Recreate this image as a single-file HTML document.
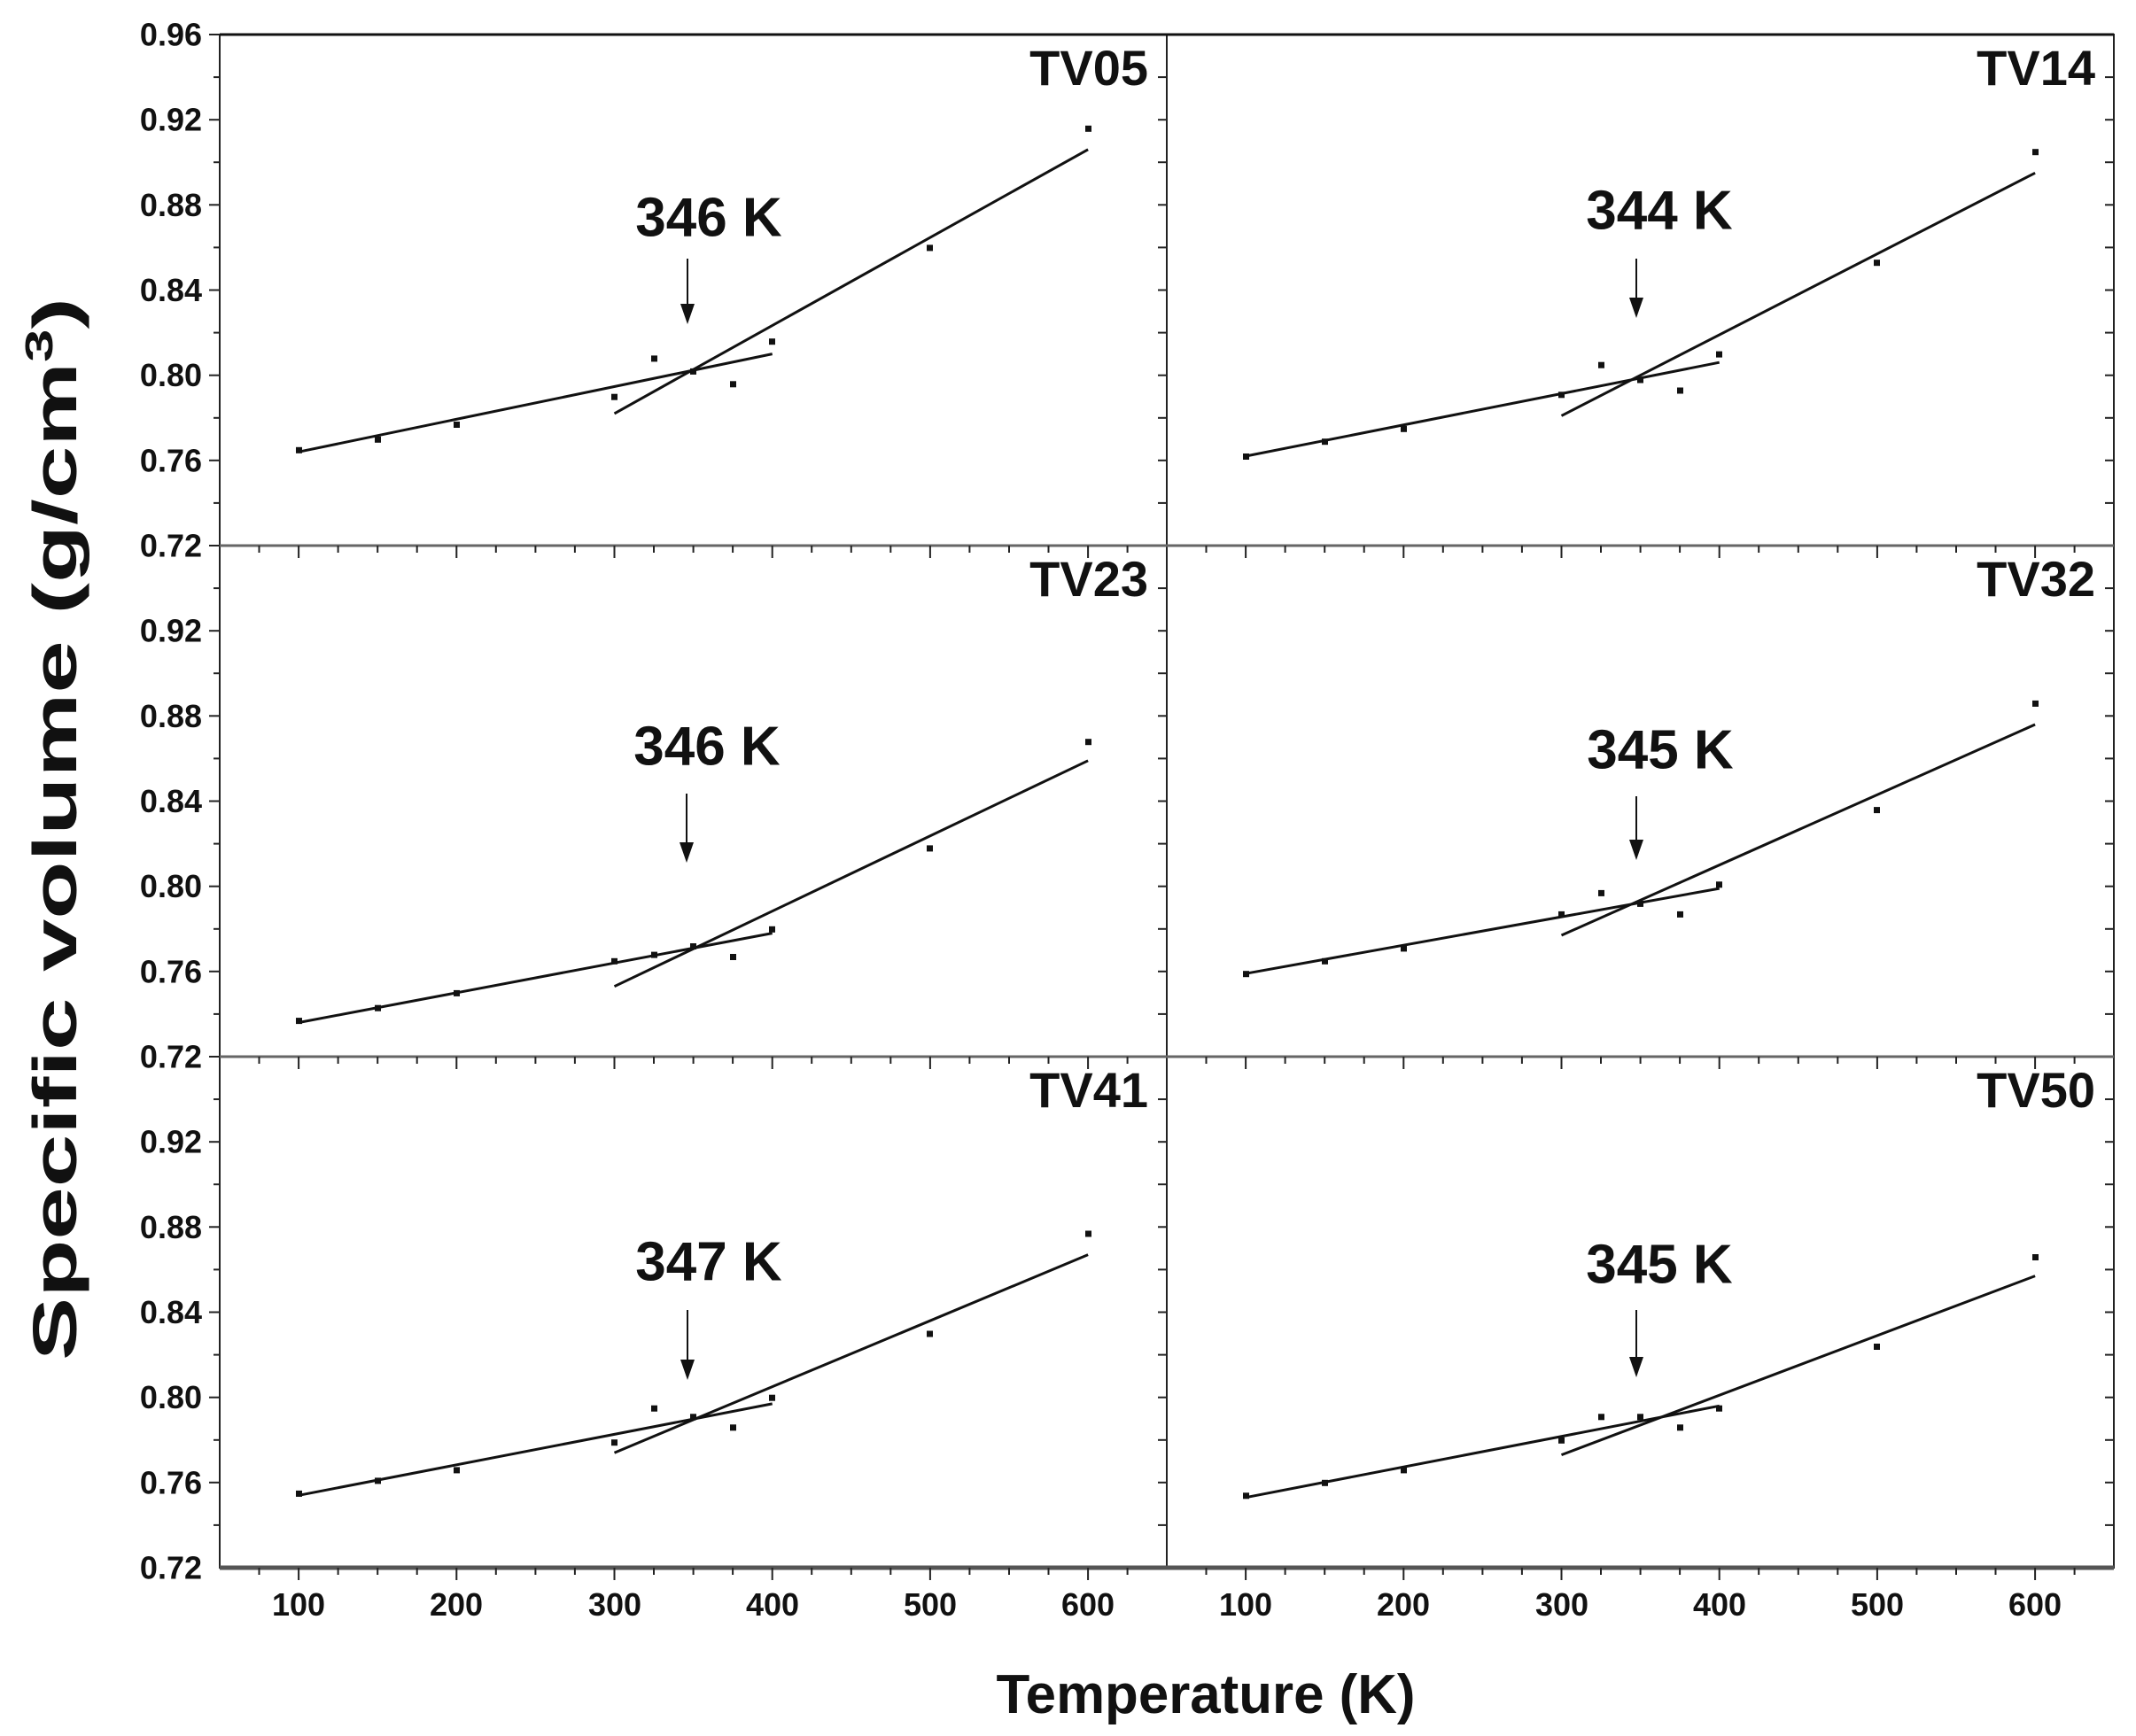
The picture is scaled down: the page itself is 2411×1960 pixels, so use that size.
<!DOCTYPE html>
<html><head><meta charset="utf-8"><style>
html,body{margin:0;padding:0;background:#fff}
svg{display:block}
text{font-family:"Liberation Sans",sans-serif;font-weight:bold;fill:#111}
</style></head><body>
<svg width="2411" height="1960" viewBox="0 0 2411 1960" xmlns="http://www.w3.org/2000/svg">
<defs>
<g id="yt">
  <line x1="236" y1="0" x2="248" y2="0"/><line x1="241" y1="48.1" x2="248" y2="48.1"/>
  <line x1="236" y1="96.2" x2="248" y2="96.2"/><line x1="241" y1="144.2" x2="248" y2="144.2"/>
  <line x1="236" y1="192.3" x2="248" y2="192.3"/><line x1="241" y1="240.4" x2="248" y2="240.4"/>
  <line x1="236" y1="288.5" x2="248" y2="288.5"/><line x1="241" y1="336.6" x2="248" y2="336.6"/>
  <line x1="236" y1="384.7" x2="248" y2="384.7"/><line x1="241" y1="432.8" x2="248" y2="432.8"/>
  <line x1="236" y1="480.8" x2="248" y2="480.8"/><line x1="241" y1="528.9" x2="248" y2="528.9"/>
</g>
<g id="yr">
  <line x1="1307" y1="48.1" x2="1317" y2="48.1"/><line x1="1307" y1="96.2" x2="1317" y2="96.2"/>
  <line x1="1307" y1="144.2" x2="1317" y2="144.2"/><line x1="1307" y1="192.3" x2="1317" y2="192.3"/>
  <line x1="1307" y1="240.4" x2="1317" y2="240.4"/><line x1="1307" y1="288.5" x2="1317" y2="288.5"/>
  <line x1="1307" y1="336.6" x2="1317" y2="336.6"/><line x1="1307" y1="384.7" x2="1317" y2="384.7"/>
  <line x1="1307" y1="432.8" x2="1317" y2="432.8"/><line x1="1307" y1="480.8" x2="1317" y2="480.8"/>
  <line x1="1307" y1="528.9" x2="1317" y2="528.9"/>
</g>
<g id="xt">
  <line x1="292.5" y1="0" x2="292.5" y2="8"/><line x1="337.1" y1="0" x2="337.1" y2="14"/>
  <line x1="381.6" y1="0" x2="381.6" y2="8"/><line x1="426.2" y1="0" x2="426.2" y2="8"/>
  <line x1="470.7" y1="0" x2="470.7" y2="8"/><line x1="515.3" y1="0" x2="515.3" y2="14"/>
  <line x1="559.8" y1="0" x2="559.8" y2="8"/><line x1="604.4" y1="0" x2="604.4" y2="8"/>
  <line x1="648.9" y1="0" x2="648.9" y2="8"/><line x1="693.5" y1="0" x2="693.5" y2="14"/>
  <line x1="738.0" y1="0" x2="738.0" y2="8"/><line x1="782.6" y1="0" x2="782.6" y2="8"/>
  <line x1="827.1" y1="0" x2="827.1" y2="8"/><line x1="871.7" y1="0" x2="871.7" y2="14"/>
  <line x1="916.2" y1="0" x2="916.2" y2="8"/><line x1="960.8" y1="0" x2="960.8" y2="8"/>
  <line x1="1005.3" y1="0" x2="1005.3" y2="8"/><line x1="1049.9" y1="0" x2="1049.9" y2="14"/>
  <line x1="1094.4" y1="0" x2="1094.4" y2="8"/><line x1="1139.0" y1="0" x2="1139.0" y2="8"/>
  <line x1="1183.5" y1="0" x2="1183.5" y2="8"/><line x1="1228.1" y1="0" x2="1228.1" y2="14"/>
  <line x1="1272.6" y1="0" x2="1272.6" y2="8"/>
</g>
</defs>

<g stroke="#222" stroke-width="2" fill="none">
  <rect x="248" y="39" width="2138" height="1731"/>
  <line x1="1317" y1="39" x2="1317" y2="1770"/>
  <line x1="248" y1="616" x2="2386" y2="616" stroke="#666" stroke-width="3"/>
  <line x1="248" y1="1193" x2="2386" y2="1193" stroke="#666" stroke-width="3"/>
</g>
<line x1="248" y1="39" x2="2386" y2="39" stroke="#111" stroke-width="3"/>
<line x1="248" y1="1770" x2="2386" y2="1770" stroke="#555" stroke-width="5"/>

<g stroke="#222" stroke-width="2">
  <use href="#yt" y="39"/><use href="#yt" y="616"/><use href="#yt" y="1193"/>
  <use href="#yr" y="39"/><use href="#yr" y="616"/><use href="#yr" y="1193"/>
  <use href="#yr" x="1069" y="39"/><use href="#yr" x="1069" y="616"/><use href="#yr" x="1069" y="1193"/>
  <use href="#xt" y="616"/><use href="#xt" y="1193"/><use href="#xt" y="1770"/>
  <use href="#xt" x="1069" y="616"/><use href="#xt" x="1069" y="1193"/><use href="#xt" x="1069" y="1770"/>
</g>

<g font-size="36" text-anchor="end" dominant-baseline="central">
<text x="228" y="39">0.96</text><text x="228" y="135.2">0.92</text><text x="228" y="231.4">0.88</text>
<text x="228" y="327.5">0.84</text><text x="228" y="423.7">0.80</text><text x="228" y="519.8">0.76</text>
<text x="228" y="616">0.72</text><text x="228" y="712.2">0.92</text><text x="228" y="808.4">0.88</text>
<text x="228" y="904.5">0.84</text><text x="228" y="1000.7">0.80</text><text x="228" y="1096.8">0.76</text>
<text x="228" y="1193">0.72</text><text x="228" y="1289.2">0.92</text><text x="228" y="1385.4">0.88</text>
<text x="228" y="1481.5">0.84</text><text x="228" y="1577.7">0.80</text><text x="228" y="1673.8">0.76</text>
<text x="228" y="1770">0.72</text>
</g>
<g font-size="36" text-anchor="middle">
<text x="337" y="1824">100</text><text x="515" y="1824">200</text><text x="694" y="1824">300</text>
<text x="872" y="1824">400</text><text x="1050" y="1824">500</text><text x="1228" y="1824">600</text>
<text x="1406" y="1824">100</text><text x="1584" y="1824">200</text><text x="1763" y="1824">300</text>
<text x="1941" y="1824">400</text><text x="2119" y="1824">500</text><text x="2297" y="1824">600</text>
</g>

<text x="1361" y="1934" font-size="62" text-anchor="middle" textLength="473" lengthAdjust="spacingAndGlyphs">Temperature (K)</text>
<text transform="translate(86,936) rotate(-90)" font-size="70" text-anchor="middle" textLength="1200" lengthAdjust="spacingAndGlyphs">Specific volume (g/cm<tspan font-size="44" dy="-27">3</tspan><tspan dy="27">)</tspan></text>

<g font-size="56" text-anchor="end">
<text x="1296" y="96">TV05</text><text x="2365" y="96">TV14</text>
<text x="1296" y="673">TV23</text><text x="2365" y="673">TV32</text>
<text x="1296" y="1250">TV41</text><text x="2365" y="1250">TV50</text>
</g>
<g font-size="62" text-anchor="middle" dominant-baseline="central">
<text x="800" y="246">346 K</text><text x="1873" y="238">344 K</text>
<text x="798" y="843">346 K</text><text x="1874" y="847">345 K</text>
<text x="800" y="1425">347 K</text><text x="1873" y="1428">345 K</text>
</g>
<g stroke="#111" stroke-width="2">
<line x1="776" y1="292" x2="776" y2="345"/><line x1="1847" y1="292" x2="1847" y2="338"/>
<line x1="775" y1="896" x2="775" y2="953"/><line x1="1847" y1="899" x2="1847" y2="950"/>
<line x1="776" y1="1479" x2="776" y2="1537"/><line x1="1847" y1="1479" x2="1847" y2="1534"/>
</g>
<g fill="#111">
<polygon points="768,343 784,343 776,366"/><polygon points="1839,336 1855,336 1847,359"/>
<polygon points="767,951 783,951 775,974"/><polygon points="1839,948 1855,948 1847,971"/>
<polygon points="768,1535 784,1535 776,1558"/><polygon points="1839,1532 1855,1532 1847,1555"/>
</g>

<g transform="translate(0,39)">
<g stroke="#111" stroke-width="3"><line x1="337.1" y1="471.2" x2="871.7" y2="360.6"/><line x1="693.5" y1="427.9" x2="1228.1" y2="129.8"/></g>
<g fill="#111"><rect x="334" y="465.8" width="7" height="7"/><rect x="423" y="453.8" width="7" height="7"/><rect x="512" y="437" width="7" height="7"/><rect x="690" y="405.7" width="7" height="7"/><rect x="735" y="362.4" width="7" height="7"/><rect x="779" y="376.9" width="7" height="7"/><rect x="824" y="391.3" width="7" height="7"/><rect x="868" y="343.2" width="7" height="7"/><rect x="1046" y="237.4" width="7" height="7"/><rect x="1225" y="102.8" width="7" height="7"/></g>
</g>
<g transform="translate(1069,39)">
<g stroke="#111" stroke-width="3"><line x1="337.1" y1="476" x2="871.7" y2="370.2"/><line x1="693.5" y1="430.4" x2="1228.1" y2="156.3"/></g>
<g fill="#111"><rect x="334" y="473" width="7" height="7"/><rect x="423" y="456.2" width="7" height="7"/><rect x="512" y="441.8" width="7" height="7"/><rect x="690" y="403.3" width="7" height="7"/><rect x="735" y="369.7" width="7" height="7"/><rect x="779" y="386.5" width="7" height="7"/><rect x="824" y="398.5" width="7" height="7"/><rect x="868" y="357.6" width="7" height="7"/><rect x="1046" y="254.2" width="7" height="7"/><rect x="1225" y="129.2" width="7" height="7"/></g>
</g>
<g transform="translate(0,616)">
<g stroke="#111" stroke-width="3"><line x1="337.1" y1="538.5" x2="871.7" y2="437.6"/><line x1="693.5" y1="497.7" x2="1228.1" y2="242.8"/></g>
<g fill="#111"><rect x="334" y="533.1" width="7" height="7"/><rect x="423" y="518.7" width="7" height="7"/><rect x="512" y="501.9" width="7" height="7"/><rect x="690" y="465.8" width="7" height="7"/><rect x="735" y="458.6" width="7" height="7"/><rect x="779" y="449" width="7" height="7"/><rect x="824" y="461" width="7" height="7"/><rect x="868" y="429.8" width="7" height="7"/><rect x="1046" y="338.4" width="7" height="7"/><rect x="1225" y="218.2" width="7" height="7"/></g>
</g>
<g transform="translate(1069,616)">
<g stroke="#111" stroke-width="3"><line x1="337.1" y1="483.2" x2="871.7" y2="387.1"/><line x1="693.5" y1="440" x2="1228.1" y2="202"/></g>
<g fill="#111"><rect x="334" y="480.2" width="7" height="7"/><rect x="423" y="465.8" width="7" height="7"/><rect x="512" y="451.4" width="7" height="7"/><rect x="690" y="412.9" width="7" height="7"/><rect x="735" y="388.9" width="7" height="7"/><rect x="779" y="400.9" width="7" height="7"/><rect x="824" y="412.9" width="7" height="7"/><rect x="868" y="379.3" width="7" height="7"/><rect x="1046" y="295.1" width="7" height="7"/><rect x="1225" y="174.9" width="7" height="7"/></g>
</g>
<g transform="translate(0,1193)">
<g stroke="#111" stroke-width="3"><line x1="337.1" y1="495.3" x2="871.7" y2="391.9"/><line x1="693.5" y1="447.2" x2="1228.1" y2="223.6"/></g>
<g fill="#111"><rect x="334" y="489.9" width="7" height="7"/><rect x="423" y="475.4" width="7" height="7"/><rect x="512" y="463.4" width="7" height="7"/><rect x="690" y="432.2" width="7" height="7"/><rect x="735" y="393.7" width="7" height="7"/><rect x="779" y="403.3" width="7" height="7"/><rect x="824" y="415.3" width="7" height="7"/><rect x="868" y="381.7" width="7" height="7"/><rect x="1046" y="309.5" width="7" height="7"/><rect x="1225" y="196.5" width="7" height="7"/></g>
</g>
<g transform="translate(1069,1193)">
<g stroke="#111" stroke-width="3"><line x1="337.1" y1="497.7" x2="871.7" y2="394.3"/><line x1="693.5" y1="449.6" x2="1228.1" y2="247.6"/></g>
<g fill="#111"><rect x="334" y="492.3" width="7" height="7"/><rect x="423" y="477.8" width="7" height="7"/><rect x="512" y="463.4" width="7" height="7"/><rect x="690" y="429.8" width="7" height="7"/><rect x="735" y="403.3" width="7" height="7"/><rect x="779" y="403.3" width="7" height="7"/><rect x="824" y="415.3" width="7" height="7"/><rect x="868" y="393.7" width="7" height="7"/><rect x="1046" y="324" width="7" height="7"/><rect x="1225" y="223" width="7" height="7"/></g>
</g>
</svg>
</body></html>
